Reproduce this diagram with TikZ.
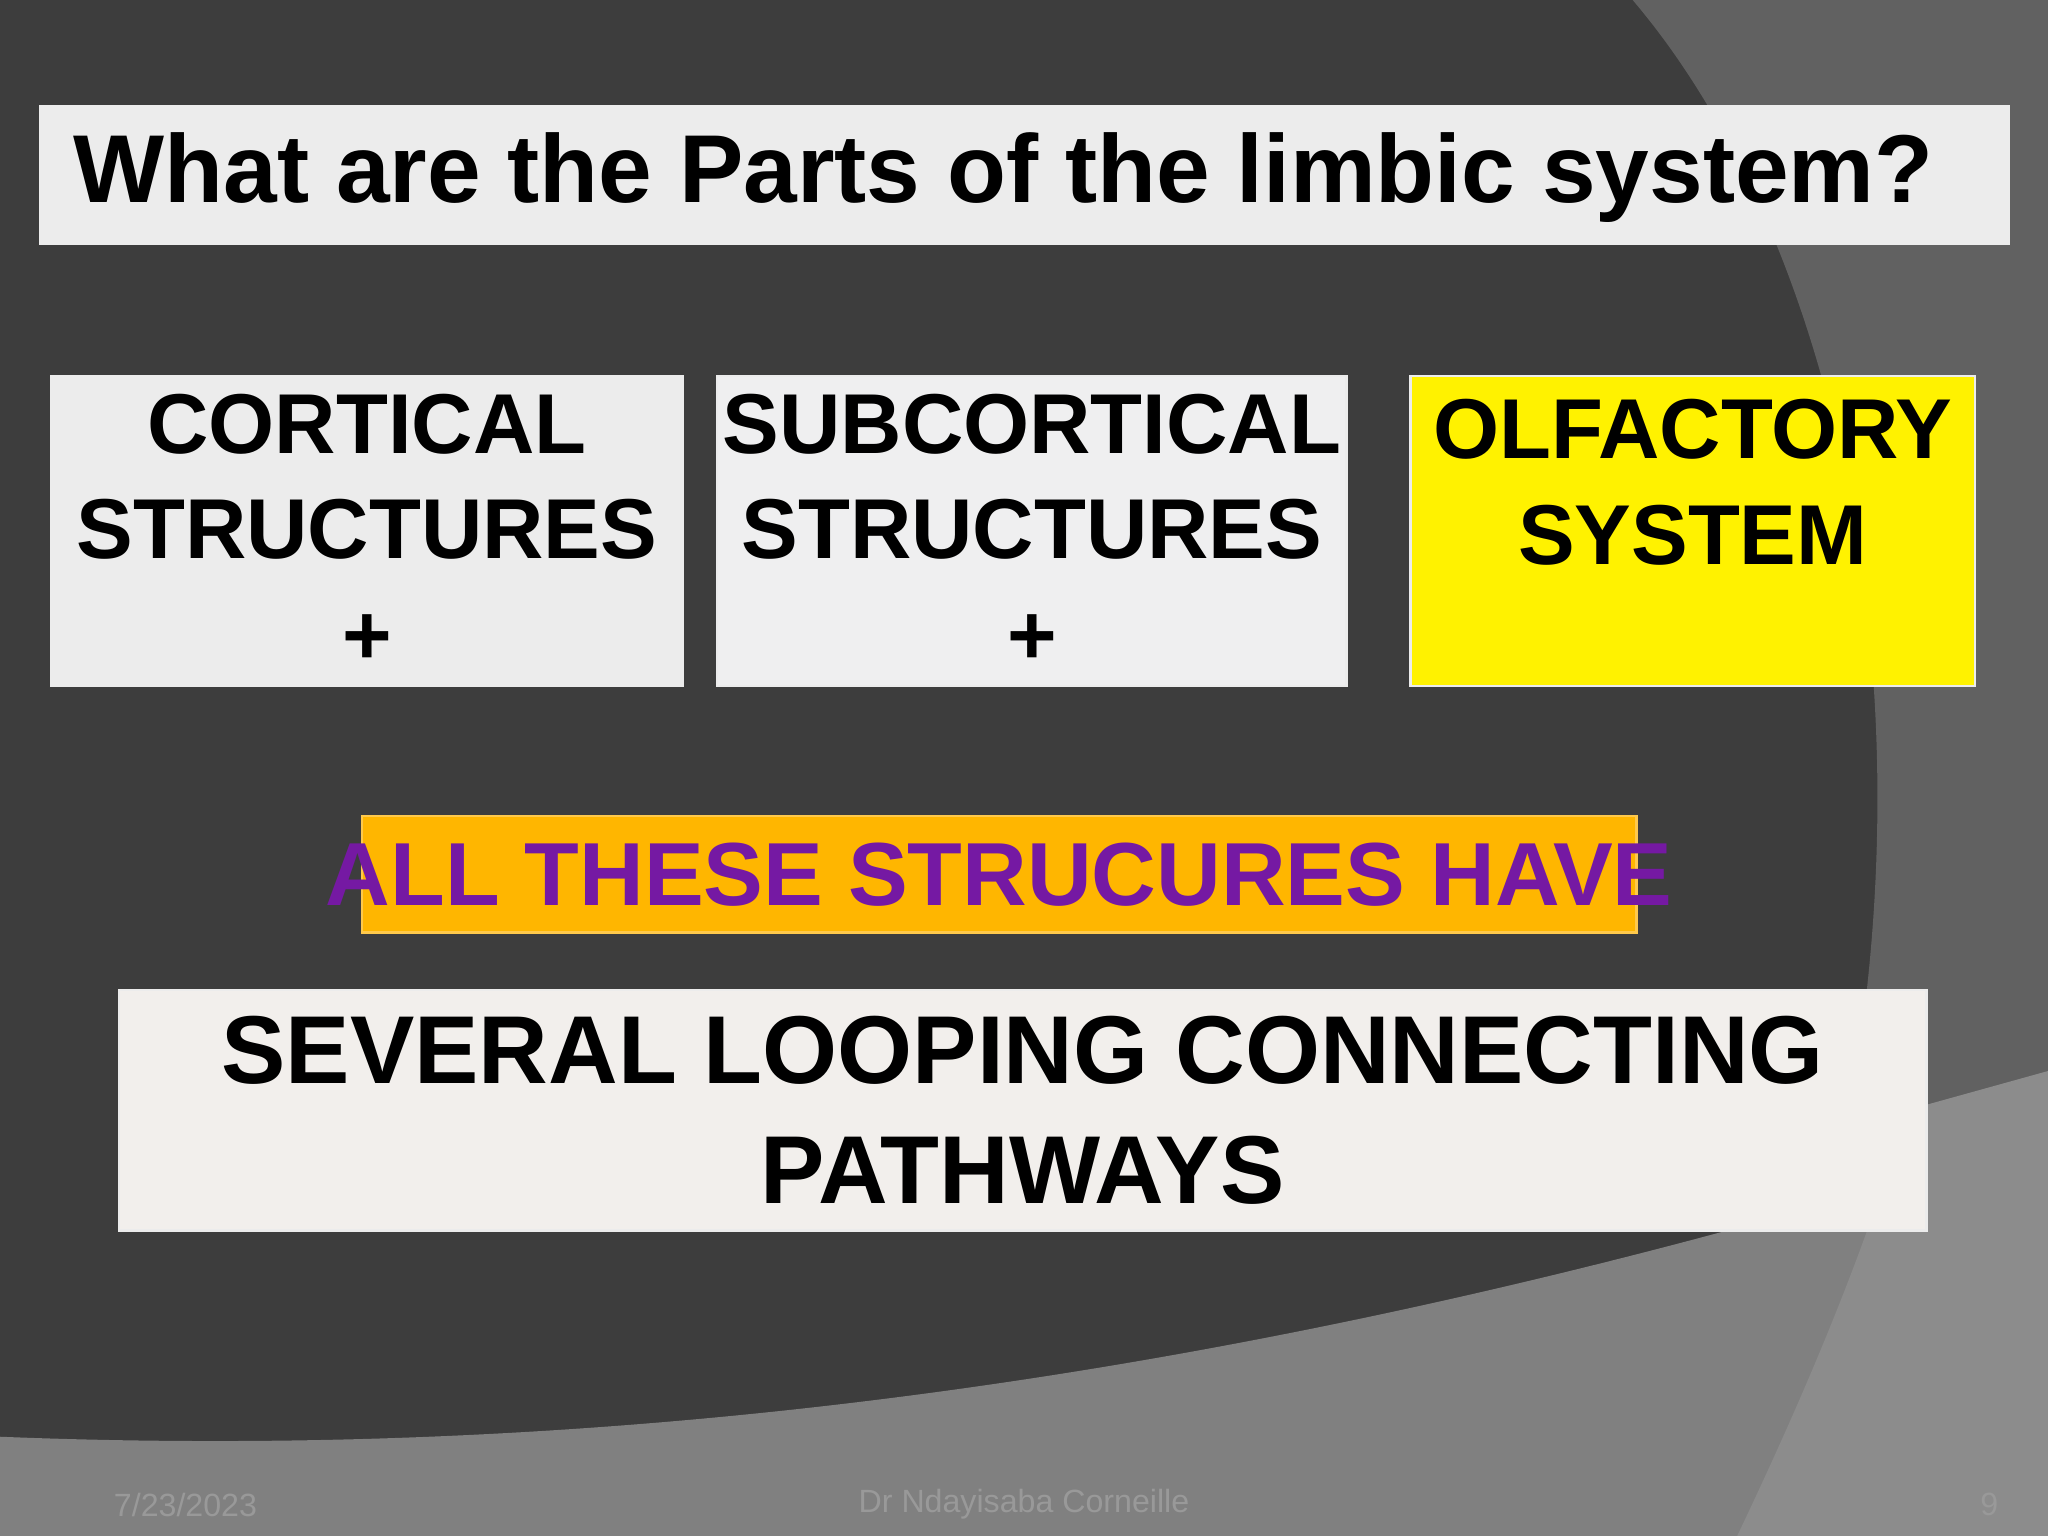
\documentclass[tikz,border=0pt]{standalone}
\usepackage{fontspec}
\setmainfont{Liberation Sans}
\begin{document}
\begin{tikzpicture}[x=0.01cm,y=-0.01cm,
 box/.style={draw=white!85!gray,line width=0.5pt},
 big/.style={align=center,font=\bfseries\fontsize{18.5}{23}\selectfont},
 foot/.style={text=gray!80!white,font=\fontsize{7}{8}\selectfont}]
\useasboundingbox (0,0) rectangle (1568,1176);
\fill[black!76] (0,0) rectangle (1568,1176);
\fill[black!62] (1250,0) .. controls (1420,200) and (1500,600) .. (1380,1000) -- (1568,1000) -- (1568,0) -- cycle;
\fill[black!50] (0,1100) .. controls (500,1120) and (1000,1050) .. (1568,870) -- (1568,1176) -- (0,1176) -- cycle;
\fill[black!45] (1330,1176) .. controls (1390,1050) and (1430,950) .. (1460,850) -- (1568,820) -- (1568,1176) -- cycle;
\draw[box,fill=gray!15] (31,81) rectangle (1538,187);
\node[anchor=west,font=\bfseries\fontsize{21}{25}\selectfont] (t) at (44,136) {What are the Parts of the limbic system?};
\draw[box,fill=gray!15] (39,288) rectangle (523,525);
\node[big] (ct) at (281,405) {CORTICAL\\STRUCTURES\\+};
\draw[box,fill=blue!3!gray!12] (549,288) rectangle (1031,525);
\node[big] (st) at (790,405) {SUBCORTICAL\\STRUCTURES\\+};
\draw[box,fill=yellow] (1080,288) rectangle (1512,525);
\node[big] (ot) at (1296,369) {OLFACTORY\\SYSTEM};
\draw[box,fill=orange!50!yellow!95!red,draw=orange!60!yellow!70!white] (277,625) rectangle (1253,714);
\node[text=violet!80!blue!90!white,font=\bfseries\fontsize{19.5}{23}\selectfont] (a) at (765,670) {ALL THESE STRUCURES HAVE};
\draw[box,fill=gray!8!orange!3!white!90!gray] (91,758) rectangle (1475,942);
\node[align=center,font=\bfseries\fontsize{21}{26}\selectfont] (p) at (783,850) {SEVERAL LOOPING CONNECTING\\PATHWAYS};
\node[foot] (d) at (142,1152) {7/23/2023};
\node[foot] (n) at (784,1152) {Dr Ndayisaba Corneille};
\node[foot] (g) at (1523,1152) {9};
\end{tikzpicture}
\end{document}
